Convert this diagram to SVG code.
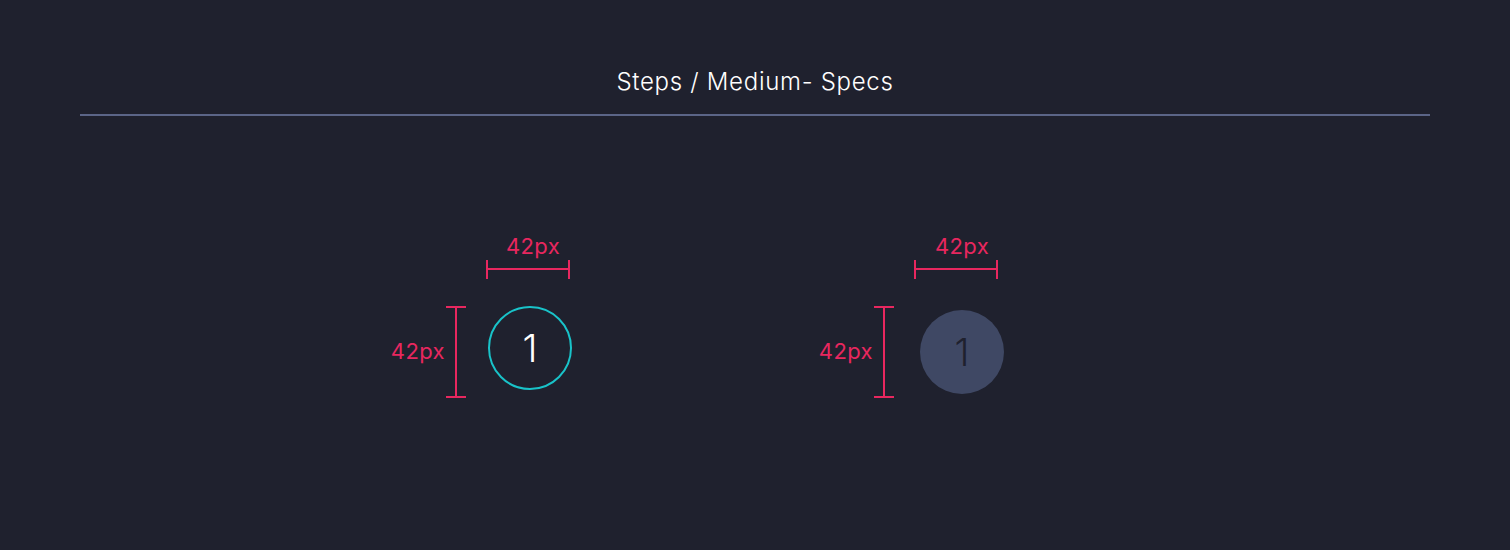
<svg xmlns="http://www.w3.org/2000/svg" width="1510" height="550" viewBox="0 0 1510 550">
<style>
.bg{fill:#1f212e}
.dim{stroke:#e8275f;stroke-width:2;fill:none}
.dimt{fill:#e8275f;font-family:Inter,"Noto Sans",sans-serif;font-size:22px;font-weight:400;letter-spacing:0.4px}
.title{fill:#ffffff;font-family:Inter,"Noto Sans",sans-serif;font-size:24px;font-weight:300;letter-spacing:0.7px}
.num{font-family:Inter,"Noto Sans",sans-serif;font-size:38px;font-weight:300;text-anchor:middle}
</style>
<rect class="bg" x="0" y="0" width="1510" height="550"/>
<g id="header">
<text class="title" x="755" y="90" text-anchor="middle">Steps / Medium- Specs</text>
<line x1="80" y1="115" x2="1430" y2="115" stroke="#5b6587" stroke-width="2"/>
</g>
<g id="connectors">
<g id="dim-left-h">
<path class="dim" d="M487 269H569M487 260V279M569 260V279"/>
<text class="dimt" x="533" y="254" text-anchor="middle">42px</text>
</g>
<g id="dim-left-v">
<path class="dim" d="M456 307V397M446 307H466M446 397H466"/>
<text class="dimt" x="445" y="359" text-anchor="end">42px</text>
</g>
<g id="dim-right-h">
<path class="dim" d="M915 269H997M915 260V279M997 260V279"/>
<text class="dimt" x="962" y="254" text-anchor="middle">42px</text>
</g>
<g id="dim-right-v">
<path class="dim" d="M884 307V397M874 307H894M874 397H894"/>
<text class="dimt" x="873" y="359" text-anchor="end">42px</text>
</g>
</g>
<g id="step-outline">
<circle cx="530" cy="348" r="41" fill="none" stroke="#19c3c9" stroke-width="2"/>
<text class="num" x="530" y="362" fill="#ffffff">1</text>
</g>
<g id="step-filled">
<circle cx="962" cy="352" r="42" fill="#3f4864"/>
<text class="num" x="962" y="366" fill="#1f212e">1</text>
</g>
</svg>
